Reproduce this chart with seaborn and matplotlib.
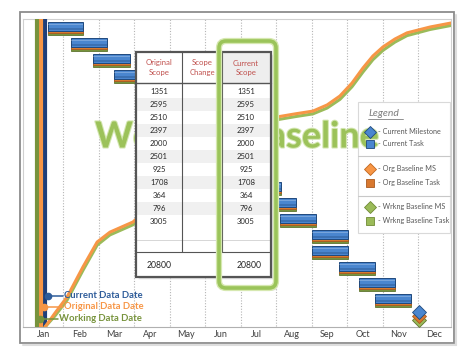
import matplotlib.pyplot as plt
import matplotlib.patheffects as pe
from matplotlib.patches import Rectangle, FancyBboxPatch
import seaborn as sns

# MONTHS ON THE X AXIS
months = ["Jan", "Feb", "Mar", "Apr", "May", "Jun", "Jul", "Aug", "Sep", "Oct", "Nov", "Dec"]

# TASKS (start / end in months from Jan 1) - rows 4..9 sit behind the table
task_start = [0.58, 1.23, 1.85, 2.44, 3.20, 3.50, 3.90, 4.30, 4.80, 5.20, 6.10, 7.03, 7.11, 8.01, 8.01, 8.77, 9.34, 9.79]
task_end = [1.56, 2.24, 2.89, 3.45, 4.20, 4.50, 4.90, 5.30, 5.80, 6.20, 7.14, 7.56, 8.13, 9.03, 9.03, 9.79, 10.35, 10.80]
milestone_date = 11.03

# DATA DATES
date_labels = ["Current Data Date", "Original Data Date", "Working Data Date"]
date_pos = [0.49, 0.38, 0.27]

# S-CURVES (% of work)
curve_month = [0.49, 0.77, 1.11, 1.56, 1.96, 2.32, 2.97, 4.0, 5.0, 6.0, 6.6, 7.03, 7.54, 8.04,
               8.44, 8.80, 9.14, 9.45, 9.73, 10.01, 10.35, 10.69, 11.34, 11.93]
orig_curve = [0, 4.5, 9.7, 19.5, 27.6, 30.8, 34.1, 45, 55, 63, 66.5, 68.2, 69.2, 70.1,
              72.1, 75.0, 79.2, 84.1, 88.0, 90.9, 93.5, 95.5, 97.4, 98.7]
work_curve = [0, 3.6, 8.7, 18.4, 26.6, 29.9, 33.2, 44, 54, 62, 65.5, 67.3, 68.3, 69.2,
              71.1, 73.9, 78.0, 82.8, 86.8, 89.8, 92.5, 94.6, 96.6, 97.9]

# SCOPE TABLE
table_header = ["Original\nScope", "Scope\nChange", "Current\nScope"]
original_scope = [1351, 2595, 2510, 2397, 2000, 2501, 925, 1708, 364, 796, 3005]
scope_change = ["", "", "", "", "", "", "", "", "", "", ""]
current_scope = [1351, 2595, 2510, 2397, 2000, 2501, 925, 1708, 364, 796, 3005]
total_original = 20800
total_current = 20800

# LEGEND
legend_labels = ["- Current Milestone", "- Current Task", "- Org Baseline MS",
                 "- Org Baseline Task", "- Wrkng Baseline MS", "- Wrkng Baseline Task"]

BLUE = "#4a86cf"
BLUE_DK = "#1f497d"
ORANGE = "#f79646"
ORANGE_BAR = "#d8782f"
GREEN = "#9bbb59"
GREEN_DK = "#77933c"

sns.set_theme(style="white")
plt.rcParams["font.family"] = ["Lato", "DejaVu Sans"]

fig = plt.figure(figsize=(4.74, 3.55), dpi=100)
fig.patch.set_facecolor("white")
ax = fig.add_axes([23 / 474, 1 - 327 / 355, 428 / 474, 308 / 355])
ax.set_zorder(1)

# GANTT BARS (3 layers per task: working, original, current)
rows = list(range(len(task_start)))
widths = [e - s for s, e in zip(task_start, task_end)]
h = 0.56
ax.barh([r + 0.28 for r in rows], widths, left=task_start, height=h, color=GREEN_DK,
        edgecolor="#5f7530", linewidth=0.6, zorder=3)
ax.barh([r + 0.125 for r in rows], widths, left=task_start, height=h, color=ORANGE_BAR,
        edgecolor="#a85a20", linewidth=0.6, zorder=4)
ax.barh(rows, widths, left=task_start, height=h, color=BLUE, edgecolor=BLUE_DK,
        linewidth=0.7, zorder=5)
ax.barh([r - h * 0.22 for r in rows], widths, left=task_start, height=h * 0.2,
        color="white", alpha=0.25, linewidth=0, zorder=6)
ax.barh([r + h * 0.3 for r in rows], widths, left=task_start, height=h * 0.2,
        color=BLUE_DK, alpha=0.35, linewidth=0, zorder=6)

# MILESTONE DIAMONDS
ms_row = len(task_start)
ax.plot([milestone_date], [ms_row + 0.34], "D", ms=7, color=GREEN, mec="#5f7530", mew=0.6, zorder=5)
ax.plot([milestone_date], [ms_row + 0.09], "D", ms=7, color=ORANGE_BAR, mec="#a85a20", mew=0.6, zorder=6)
ax.plot([milestone_date], [ms_row - 0.16], "D", ms=7, color=BLUE, mec=BLUE_DK, mew=0.6, zorder=7)

# DATA DATE LINES
date_colors = ["#1f3f7a", ORANGE, GREEN_DK]
for pos, c in zip(date_pos, date_colors):
    ax.axvline(pos, color=c, lw=3, zorder=8)

# MONTH GRID
ax.vlines(range(1, 12), -1, 20, colors="#b5b5b5", linestyles=(0, (1, 1.5)), lw=0.8, zorder=0)

ax.set_xlim(-0.13, 11.93)
ax.set_ylim(18.78, -0.47)
ax.set_xticks([m + 0.45 for m in range(12)], months)
ax.set_yticks([])
ax.tick_params(axis="x", length=0, labelsize=6.5, colors="#404040", pad=2.5)
for s in ax.spines.values():
    s.set_color("#d0d0d0")
    s.set_linewidth(0.8)
ax.spines["bottom"].set_color("#b0b0b0")

# S-CURVES ON A TWIN AXIS
ax2 = ax.twinx()
ax2.set_zorder(2)
ax2.patch.set_visible(False)
sns.lineplot(x=curve_month, y=work_curve, ax=ax2, color=GREEN, lw=2.2, sort=False)
sns.lineplot(x=curve_month, y=orig_curve, ax=ax2, color=ORANGE, lw=2.2, sort=False)
ax2.set_ylim(0, 100)
ax2.set_yticks([])
ax2.set_ylabel("")
for s in ax2.spines.values():
    s.set_visible(False)

# DATA DATE CALLOUTS
label_pct = [10.1, 6.5, 2.6]
text_x = [1.03, 1.03, 0.89]
text_colors = ["#2e5c9a", ORANGE, GREEN_DK]
for lab, pos, y, tx, c in zip(date_labels, date_pos, label_pct, text_x, text_colors):
    ax2.plot([pos + 0.08, tx - 0.04], [y, y], color=c, lw=1.1, zorder=9)
    ax2.plot([pos + 0.08], [y], "o", ms=4.5, color=c, zorder=9)
    ax2.text(tx, y, lab, color=c, fontsize=6.8, weight="bold", va="center", ha="left", zorder=9)

# OVERLAY IN PIXEL UNITS (frame, table, legend, watermark)
ov = fig.add_axes([0, 0, 1, 1])
ov.set_zorder(5)
ov.patch.set_visible(False)
ov.set_xlim(0, 474)
ov.set_ylim(355, 0)
ov.axis("off")

ov.add_patch(Rectangle((20, 12), 434, 331, fill=False, ec="#8c8c8c", lw=1.3, zorder=0))
ov.plot([456, 456], [15, 345], color="#dddddd", lw=1.5, zorder=0)
ov.plot([23, 456], [345, 345], color="#dddddd", lw=1.5, zorder=0)

# legend box
ov.add_patch(Rectangle((358, 102), 92, 131, fc="white", ec="#d9d9d9", lw=0.8, zorder=1))
ov.text(368, 113, "Legend", fontsize=7.5, style="italic", color="#7f7f7f", va="center", zorder=3)
ov.plot([368, 403], [119, 119], color="#7f7f7f", lw=0.6, zorder=3)
ov.plot([358, 450], [156, 156], color="#c8c8c8", lw=0.8, zorder=3)
ov.plot([358, 450], [196, 196], color="#c8c8c8", lw=0.8, zorder=3)
leg_y = [132, 144, 169, 183, 207, 221]
leg_marker = ["D", "s", "D", "s", "D", "s"]
leg_color = [BLUE, BLUE, ORANGE, ORANGE_BAR, GREEN, GREEN]
leg_edge = [BLUE_DK, BLUE_DK, "#c0661d", "#a85a20", "#6f8a35", "#6f8a35"]
for lab, y, m, c, e in zip(legend_labels, leg_y, leg_marker, leg_color, leg_edge):
    ov.plot([370], [y], m, ms=6.5 if m == "D" else 6, color=c, mec=e, mew=0.6, zorder=4)
    ov.text(378, y, lab, fontsize=5.2, color="#595959", va="center", zorder=4)

# watermark
ov.text(237, 137, "Working Baseline", fontsize=26, weight="bold", color="#9cc25a",
        ha="center", va="center", zorder=2,
        path_effects=[pe.withStroke(linewidth=1.5, foreground="#d3e6b0")])

# green highlight behind current scope column
ov.add_patch(FancyBboxPatch((219, 41), 57, 247, boxstyle="round,pad=0,rounding_size=7",
                            fc="white", ec="none", zorder=5))
ov.add_patch(FancyBboxPatch((221, 44), 57, 247, boxstyle="round,pad=0,rounding_size=7",
                            fc="#cccccc", ec="none", alpha=0.5, zorder=4.5))

# table
tx0, tx1, ty0, ty1 = 136, 271, 52, 277
ov.add_patch(Rectangle((tx0 + 2, ty0 + 2), tx1 - tx0, ty1 - ty0, fc="#bbbbbb", alpha=0.5, zorder=5.5))
ov.add_patch(Rectangle((tx0, ty0), tx1 - tx0, ty1 - ty0, fc="white", ec="none", zorder=6))
ov.add_patch(Rectangle((222, ty0), tx1 - 222, 31, fc="#eeeeee", ec="none", zorder=6.1))
col_x = [159, 202, 246]
row_h = 12.9
for i, (a, b, c) in enumerate(zip(original_scope, scope_change, current_scope)):
    y = 92 + row_h * i
    if i % 2 == 1:
        ov.add_patch(Rectangle((tx0, y - row_h / 2), tx1 - tx0, row_h, fc="#f0f0f0", ec="none", zorder=6.2))
    for x, v in zip(col_x, [a, b, c]):
        ov.text(x, y, str(v), fontsize=5.6, color="#262626", ha="center", va="center", zorder=7)
for x, lab in zip(col_x, table_header):
    ov.text(x, 68, lab, fontsize=5.6, color="#c0504d", ha="center", va="center",
            linespacing=1.5, zorder=7)
ov.text(col_x[0], 266, str(total_original), fontsize=6.2, color="#262626", ha="center", va="center", zorder=7)
ov.text(col_x[2] + 3, 266, str(total_current), fontsize=6.2, color="#262626", ha="center", va="center", zorder=7)
ov.plot([tx0, tx1], [83, 83], color="#555555", lw=1.0, zorder=7)
ov.plot([tx0, tx1], [240, 240], color="#d0d0d0", lw=0.6, zorder=7)
ov.plot([tx0, tx1], [252, 252], color="#555555", lw=0.8, zorder=7)
ov.plot([182, 182], [ty0, 252], color="#555555", lw=0.8, zorder=7)
ov.plot([222, 222], [ty0, 252], color="#555555", lw=0.8, zorder=7)
ov.add_patch(Rectangle((tx0, ty0), tx1 - tx0, ty1 - ty0, fill=False, ec="#555555", lw=1.6, zorder=7.5))

# green frame on top
ov.add_patch(FancyBboxPatch((219, 41), 57, 247, boxstyle="round,pad=0,rounding_size=7",
                            fill=False, ec="#d6e8b0", lw=4.5, zorder=8))
ov.add_patch(FancyBboxPatch((219, 41), 57, 247, boxstyle="round,pad=0,rounding_size=7",
                            fill=False, ec="#9bc45a", lw=2.6, zorder=8.1))

fig.savefig("out.png", dpi=100)
